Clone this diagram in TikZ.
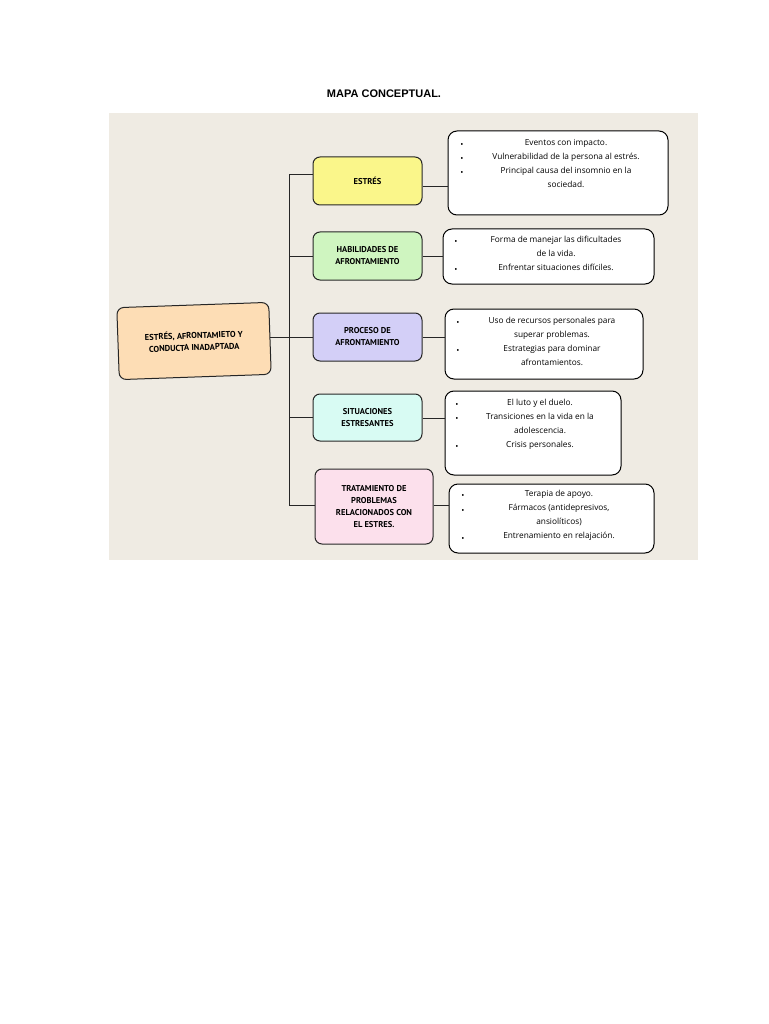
\documentclass[tikz,border=0pt]{standalone}
\usepackage{fontspec}
\setmainfont{Open Sans}
\newfontfamily\titlefont{Liberation Sans}
\newfontfamily\handfont{PT Sans}
\definecolor{panel}{HTML}{EFEBE3}
\definecolor{cpeach}{HTML}{FDDDB5}
\definecolor{cyellow}{HTML}{FAF68A}
\definecolor{cgreen}{HTML}{CFF5C0}
\definecolor{clav}{HTML}{D3CFF7}
\definecolor{ccyan}{HTML}{D8FBF3}
\definecolor{cpink}{HTML}{FCE0EC}
\begin{document}
\begin{tikzpicture}[x=1pt,y=-1pt,
  concept/.style={draw=black!85,line width=1pt,rounded corners=7pt,font=\handfont\bfseries\fontsize{8.5}{12}\selectfont,align=center,inner sep=0pt},
  info/.style={draw=black,line width=1pt,rounded corners=9pt,fill=white},
  infotext/.style={font=\fontsize{8.3}{14}\selectfont,align=center,inner sep=0pt,anchor=north},
  bul/.style={font=\fontsize{8.3}{14}\selectfont,inner sep=0pt},
  link/.style={line width=1pt,black!85}]
\useasboundingbox (0,0) rectangle (768,1024);
\fill[white] (0,0) rectangle (768,1024);
\fill[panel] (109,113) rectangle (698,560);
\node[font=\titlefont\bfseries\fontsize{11}{13}\selectfont] (title) at (384,94) {MAPA CONCEPTUAL.};
% concept nodes
\node[concept,fill=cpeach,minimum width=152pt,minimum height=72pt,rotate=2] (root) at (194,341) {ESTRÉS, AFRONTAMIETO Y\\CONDUCTA INADAPTADA};
\node[concept,fill=cyellow,minimum width=109pt,minimum height=48pt] (c1) at (367.5,181) {ESTRÉS};
\node[concept,fill=cgreen,minimum width=109pt,minimum height=48pt] (c2) at (367.5,256) {HABILIDADES DE\\AFRONTAMIENTO};
\node[concept,fill=clav,minimum width=109pt,minimum height=48pt] (c3) at (367.5,337) {PROCESO DE\\AFRONTAMIENTO};
\node[concept,fill=ccyan,minimum width=109pt,minimum height=47pt] (c4) at (367.5,417.5) {SITUACIONES\\ESTRESANTES};
\node[concept,fill=cpink,minimum width=118pt,minimum height=75pt] (c5) at (374,506.5) {TRATAMIENTO DE\\PROBLEMAS\\RELACIONADOS CON\\EL ESTRES.};
% trunk
\coordinate (t1) at (289,175);
\coordinate (t5) at (289,505);
\coordinate (tm) at (289,337);
\draw[link] (t1) -- (t5);
\draw[link] (root.east |- tm) -- (tm);
\draw[link] (t1) -- (c1.west |- t1);
\draw[link] (289,256) -- (c2.west);
\draw[link] (tm) -- (c3.west);
\draw[link] (289,417.5) -- (c4.west);
\draw[link] (t5) -- (c5.west |- t5);
% info boxes
\draw[info] (448,131) rectangle (668,215); \coordinate (b1) at (448,187);
\draw[info] (443,229) rectangle (654,284); \coordinate (b2) at (443,256);
\draw[info] (445,309) rectangle (643,379); \coordinate (b3) at (445,337);
\draw[info] (445,391) rectangle (621,475); \coordinate (b4) at (445,418);
\draw[info] (449,484) rectangle (654,553); \coordinate (b5) at (449,505);
\draw[link] (c1.east |- 0,187) -- (b1);
\draw[link] (c2.east) -- (b2);
\draw[link] (c3.east) -- (b3);
\draw[link] (c4.east |- b4) -- (b4);
\draw[link] (c5.east |- b5) -- (b5);
% info texts
\node[infotext] (i1) at (566,139) {Eventos con impacto.\\Vulnerabilidad de la persona al estrés.\\Principal causa del insomnio en la\\sociedad.};
\node[bul] (d11) at (462,145) {•}; \node[bul] (d12) at (462,159) {•}; \node[bul] (d13) at (462,173) {•};
\node[infotext] (i2) at (556,236) {Forma de manejar las dificultades\\de la vida.\\Enfrentar situaciones difíciles.};
\node[bul] (d21) at (456,242) {•}; \node[bul] (d22) at (456,270) {•};
\node[infotext] (i3) at (552,317) {Uso de recursos personales para\\superar problemas.\\Estrategias para dominar\\afrontamientos.};
\node[bul] (d31) at (458,323) {•}; \node[bul] (d32) at (458,351) {•};
\node[infotext] (i4) at (540,399) {El luto y el duelo.\\Transiciones en la vida en la\\adolescencia.\\Crisis personales.};
\node[bul] (d41) at (457,405) {•}; \node[bul] (d42) at (457,419) {•}; \node[bul] (d43) at (457,447) {•};
\node[infotext] (i5) at (559,490) {Terapia de apoyo.\\Fármacos (antidepresivos,\\ansiolíticos)\\Entrenamiento en relajación.};
\node[bul] (d51) at (463,496) {•}; \node[bul] (d52) at (463,511) {•}; \node[bul] (d53) at (463,539) {•};
\end{tikzpicture}
\end{document}
